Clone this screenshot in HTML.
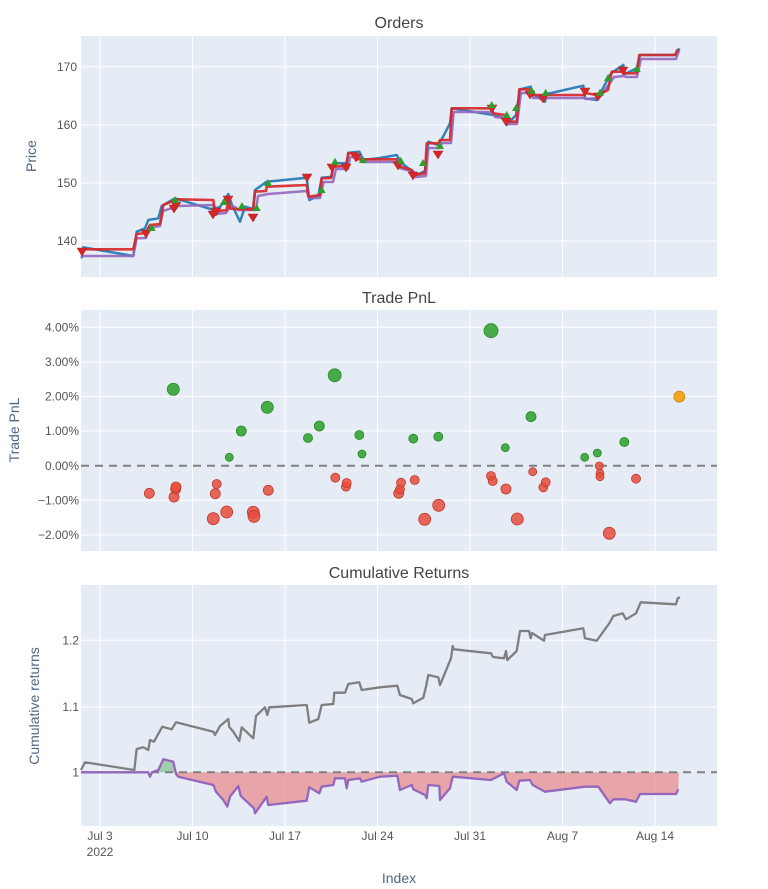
<!DOCTYPE html>
<html><head><meta charset="utf-8"><style>
html,body{margin:0;padding:0;background:#fff;}
svg{display:block;font-family:"Liberation Sans",sans-serif;}
.tk{font-size:12px;fill:#555;}
.tt{font-size:16px;fill:#444;}
.at{font-size:14px;fill:#506784;}
.g{stroke:#fff;stroke-width:1;}
</style></head><body>
<svg width="768" height="889" viewBox="0 0 768 889">
<rect x="81" y="36" width="636" height="241" fill="#e5ecf6"/>
<rect x="81" y="310" width="636" height="241" fill="#e5ecf6"/>
<rect x="81" y="585" width="636" height="241" fill="#e5ecf6"/>
<g class="g">
<line x1="100" y1="36" x2="100" y2="277"/><line x1="192.5" y1="36" x2="192.5" y2="277"/><line x1="285" y1="36" x2="285" y2="277"/><line x1="377.5" y1="36" x2="377.5" y2="277"/><line x1="470" y1="36" x2="470" y2="277"/><line x1="562.5" y1="36" x2="562.5" y2="277"/><line x1="655" y1="36" x2="655" y2="277"/>
<line x1="100" y1="310" x2="100" y2="551"/><line x1="192.5" y1="310" x2="192.5" y2="551"/><line x1="285" y1="310" x2="285" y2="551"/><line x1="377.5" y1="310" x2="377.5" y2="551"/><line x1="470" y1="310" x2="470" y2="551"/><line x1="562.5" y1="310" x2="562.5" y2="551"/><line x1="655" y1="310" x2="655" y2="551"/>
<line x1="100" y1="585" x2="100" y2="826"/><line x1="192.5" y1="585" x2="192.5" y2="826"/><line x1="285" y1="585" x2="285" y2="826"/><line x1="377.5" y1="585" x2="377.5" y2="826"/><line x1="470" y1="585" x2="470" y2="826"/><line x1="562.5" y1="585" x2="562.5" y2="826"/><line x1="655" y1="585" x2="655" y2="826"/>
<line x1="81" y1="66.7" x2="717" y2="66.7"/><line x1="81" y1="125" x2="717" y2="125"/><line x1="81" y1="183" x2="717" y2="183"/><line x1="81" y1="241" x2="717" y2="241"/>
<line x1="81" y1="327.3" x2="717" y2="327.3"/><line x1="81" y1="362" x2="717" y2="362"/><line x1="81" y1="396.5" x2="717" y2="396.5"/><line x1="81" y1="431" x2="717" y2="431"/><line x1="81" y1="500.3" x2="717" y2="500.3"/><line x1="81" y1="535" x2="717" y2="535"/>
<line x1="81" y1="640.3" x2="717" y2="640.3"/><line x1="81" y1="707" x2="717" y2="707"/>
</g>
<text class="tt" x="399" y="28" text-anchor="middle">Orders</text>
<text class="tt" x="399" y="303" text-anchor="middle">Trade PnL</text>
<text class="tt" x="399" y="578" text-anchor="middle">Cumulative Returns</text>
<text class="at" x="399" y="883" text-anchor="middle">Index</text>
<text class="at" transform="translate(36,156) rotate(-90)" text-anchor="middle">Price</text>
<text class="at" transform="translate(19,430) rotate(-90)" text-anchor="middle">Trade PnL</text>
<text class="at" transform="translate(39,706) rotate(-90)" text-anchor="middle">Cumulative returns</text>
<g class="tk" text-anchor="end">
<text x="77" y="71">170</text><text x="77" y="129">160</text><text x="77" y="187">150</text><text x="77" y="245">140</text>
<text x="79" y="331.5">4.00%</text><text x="79" y="366">3.00%</text><text x="79" y="400.5">2.00%</text><text x="79" y="435">1.00%</text><text x="79" y="470">0.00%</text><text x="79" y="504.5">−1.00%</text><text x="79" y="539">−2.00%</text>
<text x="79" y="644.5">1.2</text><text x="79" y="711">1.1</text><text x="79" y="776.5">1</text>
</g>
<g class="tk" text-anchor="middle">
<text x="100" y="840">Jul 3</text><text x="100" y="856">2022</text>
<text x="192.5" y="840">Jul 10</text><text x="285" y="840">Jul 17</text><text x="377.5" y="840">Jul 24</text><text x="470" y="840">Jul 31</text><text x="562.5" y="840">Aug 7</text><text x="655" y="840">Aug 14</text>
</g>
<g fill="none" stroke-width="2.5" stroke-linejoin="round" stroke-opacity="0.9">
<polyline stroke="#1f77b4" points="81.7,258.3 83.3,247.3 133.3,256 136.7,231.7 145,228.3 148.3,220 158.3,218.3 161.7,206 175,198.3 211.7,209.3 220,207 228.3,194 232,205 240,221.7 245,206.7 253,209 255,190 266.7,181.7 306.7,177.7 309.3,200 318.3,196 321.7,177.7 331.7,176.7 333.3,163.3 346.7,163.3 348.3,152.7 359.3,151.7 363.3,160 380,158 396.7,155 401.7,163.3 413.3,171.7 416.7,175 425,171 428.3,141.7 438,145 441.7,139.3 450,123.3 451.7,108.3 493.3,115 505,118.3 506.7,125 516,115 520,89.3 530.7,86.7 533,94 545,101.7 546.7,94 583.3,85.7 585,98.3 596.7,100 610,75 613.3,71.7 623.3,65 625,74 636.7,68.3 640,55 676,55 679.3,48.3"/>
<polyline stroke="#9467bd" points="81.7,256 133.3,256 136.7,238.3 146,238 148,228 160,226 163,211 178,206 213.3,205 216,214 226,213 230,206 235,207 238,210 256,210 258,196 268,194 306.7,191 309.3,198 320,198 323.7,182 333,182 336,169 348,169 350,157 360,157 362,162 398,162 400,168 414,172 416,177 426,176 428.3,148 440,148 442,143 451,143 453.7,112 492,112 495,117 506,118 508,124 517,124 521,93 531,93 533,98 545,98 584,98 586,99 598,98 600,97 612,80 614,77 624,76 626,77 637,77 641,59 676,59 679.3,50"/>
<polyline stroke="#d62728" stroke-width="2.6" points="81.7,255 84,249.3 133.3,249.3 136.7,234 146,233 150,225 160,224 163.3,205 176.7,199.3 213.3,200 215,211.7 226.7,210 228.3,196.7 230,208.7 243.3,209.3 253.3,209.3 255,191.7 266,191 266.7,186.7 306.7,185 308.3,196.7 320,195 321.7,178.3 331,178 333.3,166.7 346,166 348.3,153.3 356.7,153.3 358.3,159.3 396.7,159.3 398.3,166 411.7,170 413.3,175 425,173.3 426.7,143.3 438.3,143.3 440,140 450,140 451.7,108.3 491.7,108.3 493.3,113.3 505,115 506.7,121.7 516.7,121.7 519.3,89.3 530,89.3 531.7,95 583.3,95 585,93 596.7,95 600,94 608,90 611.7,71.7 621.7,71.7 623.3,73.3 636.7,73.3 639.3,55 675,55 677.7,49.3"/>
</g>
<g fill="#d62728" stroke="#b22020" stroke-width="0.5">
<path d="M-5,-4 L5,-4 L0,4 Z" transform="translate(82,252)"/>
<path d="M-5,-4 L5,-4 L0,4 Z" transform="translate(146,234)"/>
<path d="M-5,-4 L5,-4 L0,4 Z" transform="translate(174,209)"/>
<path d="M-5,-4 L5,-4 L0,4 Z" transform="translate(176,206)"/>
<path d="M-5,-4 L5,-4 L0,4 Z" transform="translate(213,215)"/>
<path d="M-5,-4 L5,-4 L0,4 Z" transform="translate(216,212)"/>
<path d="M-5,-4 L5,-4 L0,4 Z" transform="translate(228,200)"/>
<path d="M-5,-4 L5,-4 L0,4 Z" transform="translate(253,218)"/>
<path d="M-5,-4 L5,-4 L0,4 Z" transform="translate(307,178)"/>
<path d="M-5,-4 L5,-4 L0,4 Z" transform="translate(332,168)"/>
<path d="M-5,-4 L5,-4 L0,4 Z" transform="translate(346,168)"/>
<path d="M-5,-4 L5,-4 L0,4 Z" transform="translate(356,158)"/>
<path d="M-5,-4 L5,-4 L0,4 Z" transform="translate(398,166)"/>
<path d="M-5,-4 L5,-4 L0,4 Z" transform="translate(413,176)"/>
<path d="M-5,-4 L5,-4 L0,4 Z" transform="translate(438,155)"/>
<path d="M-5,-4 L5,-4 L0,4 Z" transform="translate(492,109)"/>
<path d="M-5,-4 L5,-4 L0,4 Z" transform="translate(506,122)"/>
<path d="M-5,-4 L5,-4 L0,4 Z" transform="translate(530,95)"/>
<path d="M-5,-4 L5,-4 L0,4 Z" transform="translate(543,99)"/>
<path d="M-5,-4 L5,-4 L0,4 Z" transform="translate(585,92)"/>
<path d="M-5,-4 L5,-4 L0,4 Z" transform="translate(598,97)"/>
<path d="M-5,-4 L5,-4 L0,4 Z" transform="translate(623,71)"/>
</g>
<g fill="#2ca02c">
<path d="M-4,3 L4,3 L0,-4 Z" transform="translate(151.7,228)"/>
<path d="M-4,3 L4,3 L0,-4 Z" transform="translate(175,200)"/>
<path d="M-4,3 L4,3 L0,-4 Z" transform="translate(224,202)"/>
<path d="M-4,3 L4,3 L0,-4 Z" transform="translate(242,206)"/>
<path d="M-4,3 L4,3 L0,-4 Z" transform="translate(256.7,208)"/>
<path d="M-4,3 L4,3 L0,-4 Z" transform="translate(268,183)"/>
<path d="M-4,3 L4,3 L0,-4 Z" transform="translate(321.7,190)"/>
<path d="M-4,3 L4,3 L0,-4 Z" transform="translate(335,161.7)"/>
<path d="M-4,3 L4,3 L0,-4 Z" transform="translate(363,160)"/>
<path d="M-4,3 L4,3 L0,-4 Z" transform="translate(400.7,160.7)"/>
<path d="M-4,3 L4,3 L0,-4 Z" transform="translate(423,163)"/>
<path d="M-4,3 L4,3 L0,-4 Z" transform="translate(440,146)"/>
<path d="M-4,3 L4,3 L0,-4 Z" transform="translate(491.7,105)"/>
<path d="M-4,3 L4,3 L0,-4 Z" transform="translate(506.7,115)"/>
<path d="M-4,3 L4,3 L0,-4 Z" transform="translate(516,108)"/>
<path d="M-4,3 L4,3 L0,-4 Z" transform="translate(531.7,90.7)"/>
<path d="M-4,3 L4,3 L0,-4 Z" transform="translate(545.7,92.7)"/>
<path d="M-4,3 L4,3 L0,-4 Z" transform="translate(600,92.7)"/>
<path d="M-4,3 L4,3 L0,-4 Z" transform="translate(608,78)"/>
<path d="M-4,3 L4,3 L0,-4 Z" transform="translate(636.7,69)"/>
</g>
<line x1="81" y1="465.7" x2="717" y2="465.7" stroke="#808080" stroke-width="2" stroke-dasharray="8,6"/>
<g fill="#e74c3c" fill-opacity="0.85" stroke="#c0392b" stroke-width="0.8">
<circle cx="149.3" cy="493.3" r="5"/><circle cx="174" cy="497" r="5"/><circle cx="175.7" cy="489" r="5"/><circle cx="176" cy="487" r="5"/>
<circle cx="213.3" cy="518.7" r="6"/><circle cx="215.3" cy="493.7" r="5"/><circle cx="216.7" cy="484" r="4.5"/><circle cx="226.7" cy="512" r="6"/>
<circle cx="253.3" cy="512.3" r="6"/><circle cx="254" cy="516.3" r="6"/><circle cx="268.3" cy="490.3" r="5"/>
<circle cx="335.3" cy="477.7" r="4.5"/><circle cx="346" cy="486.7" r="4.5"/><circle cx="346.7" cy="483" r="4.5"/>
<circle cx="398.7" cy="493.3" r="5"/><circle cx="400" cy="489.3" r="4.5"/><circle cx="401" cy="482.7" r="4.5"/><circle cx="414.7" cy="480" r="4.5"/>
<circle cx="424.7" cy="519.3" r="6"/><circle cx="438.7" cy="505.3" r="6"/>
<circle cx="491" cy="476" r="4.5"/><circle cx="492.7" cy="481" r="4.5"/><circle cx="506" cy="489" r="5"/><circle cx="517.3" cy="519" r="6"/>
<circle cx="532.7" cy="471.7" r="4"/><circle cx="543.3" cy="487.3" r="4.5"/><circle cx="545.7" cy="482.3" r="4.5"/>
<circle cx="599.3" cy="466" r="4"/><circle cx="600" cy="473.3" r="4"/><circle cx="600" cy="476.7" r="4"/>
<circle cx="609.3" cy="533.3" r="6"/><circle cx="636" cy="478.7" r="4.5"/>
</g>
<g fill="#2ca02c" fill-opacity="0.85" stroke="#228b22" stroke-width="0.8">
<circle cx="173.3" cy="389.3" r="6"/><circle cx="229.3" cy="457.3" r="4"/><circle cx="241.3" cy="431" r="5"/><circle cx="267.3" cy="407.3" r="6"/>
<circle cx="308" cy="438" r="4.5"/><circle cx="319.3" cy="426" r="5"/><circle cx="334.7" cy="375.3" r="6.5"/><circle cx="359.3" cy="435" r="4.5"/><circle cx="362" cy="454" r="4"/>
<circle cx="413.3" cy="438.7" r="4.5"/><circle cx="438.3" cy="436.7" r="4.5"/><circle cx="491" cy="330.7" r="7"/><circle cx="505.3" cy="447.7" r="4"/>
<circle cx="531" cy="416.7" r="5"/><circle cx="584.7" cy="457.3" r="4"/><circle cx="597.3" cy="453" r="4"/><circle cx="624.3" cy="442" r="4.5"/>
</g>
<circle cx="679.3" cy="396.7" r="5.5" fill="#f5a623" stroke="#d68910" stroke-width="0.8"/>
<polygon fill="#e8888a" fill-opacity="0.7" points="176,772.3 178.3,776.7 213.3,785 216,791.7 223.3,800 227.3,806.7 230,796.7 238.3,786 240.7,796 254,808.3 255,813.3 266.7,796.7 268.3,805 306.7,800.7 309.3,787.3 319.3,793.3 321.7,786.7 333.3,785 335,778.3 345,778.3 346.7,788.3 348.3,780 360,778.3 361.7,781.7 380,776.7 397.3,775.7 400,790 411.7,785 413.3,789.3 425,795 426.7,798.3 428.3,785 439.3,786 440,800 450,788.3 452.7,776.7 491,780 504,773.3 506.7,781.7 516.7,790 519.3,780.7 530,780 532.7,785 545,791.7 585,786.7 598.3,786.7 610,803.3 613.3,799.3 625,799.3 636,801.7 640,794 676,794 678.3,789.3 679,772.3"/>
<polygon fill="#8fc79a" fill-opacity="0.8" points="158.3,772.3 163.3,759.3 173.3,761.7 176,772.3"/>
<line x1="81" y1="772.3" x2="717" y2="772.3" stroke="#808080" stroke-width="2" stroke-dasharray="8,6"/>
<polyline fill="none" stroke="#7f7f7f" stroke-width="2.3" stroke-linejoin="round" points="81,770 85,762.3 134.3,770 136.7,749 143.3,747.3 148.3,750 150,740 154,741.7 162.3,726.7 171.7,729.3 176,722.3 213.3,731.7 215,735 220,726 228.3,719 229.3,727 233.3,731.7 239.3,741 241.7,727.3 253.3,738.3 256,716 265,707.3 267.3,715 269.3,707.3 306.7,705 309.3,722.7 318.3,719 321.7,705 333.3,704 334.3,692.7 345,692.7 348.3,684 359.3,682.3 361.7,690 380,687.3 397.3,685.7 400,695 411.7,699 413.3,703.3 423.3,697.7 426,686.7 428.3,675 438.3,677.3 440,685 451,658.3 452.7,646 454,649.3 491,653.3 493,657 504,658.3 506,651 507.3,660 516.7,651 520,631 529,631 530.7,638.3 532,633 544,640.7 545,635 583.3,628.3 585,638.3 596.7,640.7 609.3,623.3 613.3,616 622.7,613.3 626,619.3 636,613.3 640.7,602.3 676,604.3 677.7,598.3 680,597.3"/>
<polyline fill="none" stroke="#9467bd" stroke-width="2.3" stroke-linejoin="round" points="81,772.3 148.3,772.3 150,776.7 152,772.3 158.3,770 163.3,759.3 173.3,761.7 176,774 178.3,776.7 213.3,785 216,791.7 223.3,800 227.3,806.7 230,796.7 238.3,786 240.7,796 254,808.3 255,813.3 266.7,796.7 268.3,805 306.7,800.7 309.3,787.3 319.3,793.3 321.7,786.7 333.3,785 335,778.3 345,778.3 346.7,788.3 348.3,780 360,778.3 361.7,781.7 380,776.7 397.3,775.7 400,790 411.7,785 413.3,789.3 425,795 426.7,798.3 428.3,785 439.3,786 440,800 450,788.3 452.7,776.7 491,780 504,773.3 506.7,781.7 516.7,790 519.3,780.7 530,780 532.7,785 545,791.7 585,786.7 598.3,786.7 610,803.3 613.3,799.3 625,799.3 636,801.7 640,794 676,794 678.3,789.3"/>
</svg>
</body></html>
